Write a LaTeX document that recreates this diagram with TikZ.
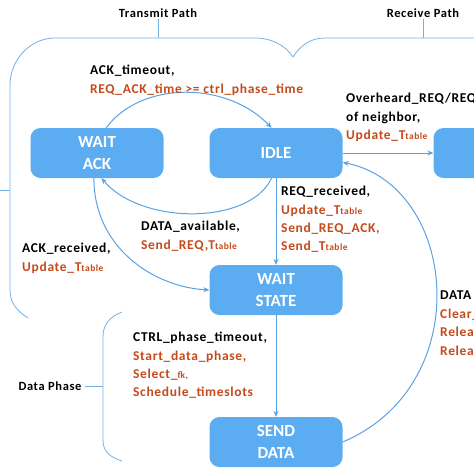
\documentclass[tikz,border=0pt]{standalone}
\usepackage{fontspec}
\setmainfont{Carlito}
\newfontfamily\lblfont{Carlito}[LetterSpace=5]
\usetikzlibrary{arrows.meta}
\definecolor{boxblue}{RGB}{92,172,242}
\definecolor{lineblue}{RGB}{88,162,228}
\definecolor{evt}{RGB}{196,74,28}
\newcommand\Tt{T{\fontsize{9.5}{9.5}\selectfont table}}
\tikzset{st/.style={rounded corners=10pt, fill=boxblue, draw=none, minimum width=133pt, minimum height=50pt, align=center, text=white, font=\fontsize{17}{22}\selectfont\bfseries}}
\tikzset{lbl/.style={anchor=north west, inner sep=0pt, align=left, font=\lblfont\fontsize{13.5}{18.4}\selectfont\bfseries}}
\tikzset{phs/.style={font=\lblfont\fontsize{12.5}{14}\selectfont\bfseries, inner sep=1pt}}
\tikzset{arr/.style={draw=lineblue, line width=1pt, -{Stealth[length=6pt,width=5pt]}}}
\tikzset{brk/.style={draw=lineblue!85, line width=0.8pt}}

\begin{document}
\begin{tikzpicture}[x=1pt,y=-1pt]
\useasboundingbox (0,0) rectangle (474,474);
% states
\node[st] (wack) at (97,153) {WAIT\\ACK};
\node[st] (idle) at (276,153) {IDLE};
\node[st] (nb) at (500,153) {};
\node[st] (wst) at (276,290) {WAIT\\STATE};
\node[st] (snd) at (276,442) {SEND\\DATA};

% transitions
\draw[arr] (wack.70) .. controls +(35,-47) and +(-45,-47) .. (idle.100);
\draw[arr] (idle.260) .. controls +(-22,47) and +(40,47) .. (wack.280);
\draw[arr] (wack.263) .. controls +(0,70) and +(-55,-3) .. (wst.west);
\draw[arr] (idle) -- (wst);
\draw[arr] (wst) -- (snd);
\draw[arr] (snd.east) .. controls +(135,-57) and +(115,23) .. (idle.-8);
\draw[arr] (idle) -- (nb);

% conditions and actions
\node[lbl] (l1) at (90,65) {ACK\_timeout,\\\textcolor{evt}{REQ\_ACK\_time >= ctrl\_phase\_time}};
\node[lbl] (l2) at (346,93) {Overheard\_REQ/REQ\\of neighbor,\\\textcolor{evt}{Update\_\Tt}};
\node[lbl] (l3) at (141,221) {DATA\_available,\\\textcolor{evt}{Send\_REQ,\Tt}};
\node[lbl] (l4) at (281,186) {REQ\_received,\\\textcolor{evt}{Update\_\Tt}\\\textcolor{evt}{Send\_REQ\_ACK,}\\\textcolor{evt}{Send\_\Tt}};
\node[lbl] (l5) at (22,243) {ACK\_received,\\\textcolor{evt}{Update\_\Tt}};
\node[lbl] (l6) at (440,291) {DATA\\\textcolor{evt}{Clear\_}\\\textcolor{evt}{Relea}\\\textcolor{evt}{Relea}};
\node[lbl] (l7) at (133,332) {CTRL\_phase\_timeout,\\\textcolor{evt}{Start\_data\_phase,}\\\textcolor{evt}{Select\_{\fontsize{9.5}{9.5}\selectfont fk,}}\\\textcolor{evt}{Schedule\_timeslots}};

% phases
\node[phs] (tp) at (158,13) {Transmit Path};
\node[phs] (rp) at (423,13) {Receive Path};
\node[phs, inner sep=3pt] (dp) at (50,386) {Data Phase};
\draw[brk] (tp.south) -- (tp.south |- 0,38);
\draw[brk] (rp.south) -- (rp.south |- 0,38);
\draw[brk] (dp.east) -- (103,386);
\draw[brk] (28,318) .. controls (17,311) and (10,303) .. (10,290) -- (10,85)
  .. controls (10,60) and (30,38) .. (55,38) -- (255,38)
  .. controls (272,38) and (286,46) .. (293,57);
\draw[brk] (293,57) .. controls (300,46) and (310,38) .. (325,38) -- (480,38);
\draw[brk] (0,190) -- (10,190);
\draw[brk] (122,312) .. controls (109,317) and (103,325) .. (103,337) -- (103,440)
  .. controls (103,452) and (110,457) .. (122,461);
\end{tikzpicture}
\end{document}
